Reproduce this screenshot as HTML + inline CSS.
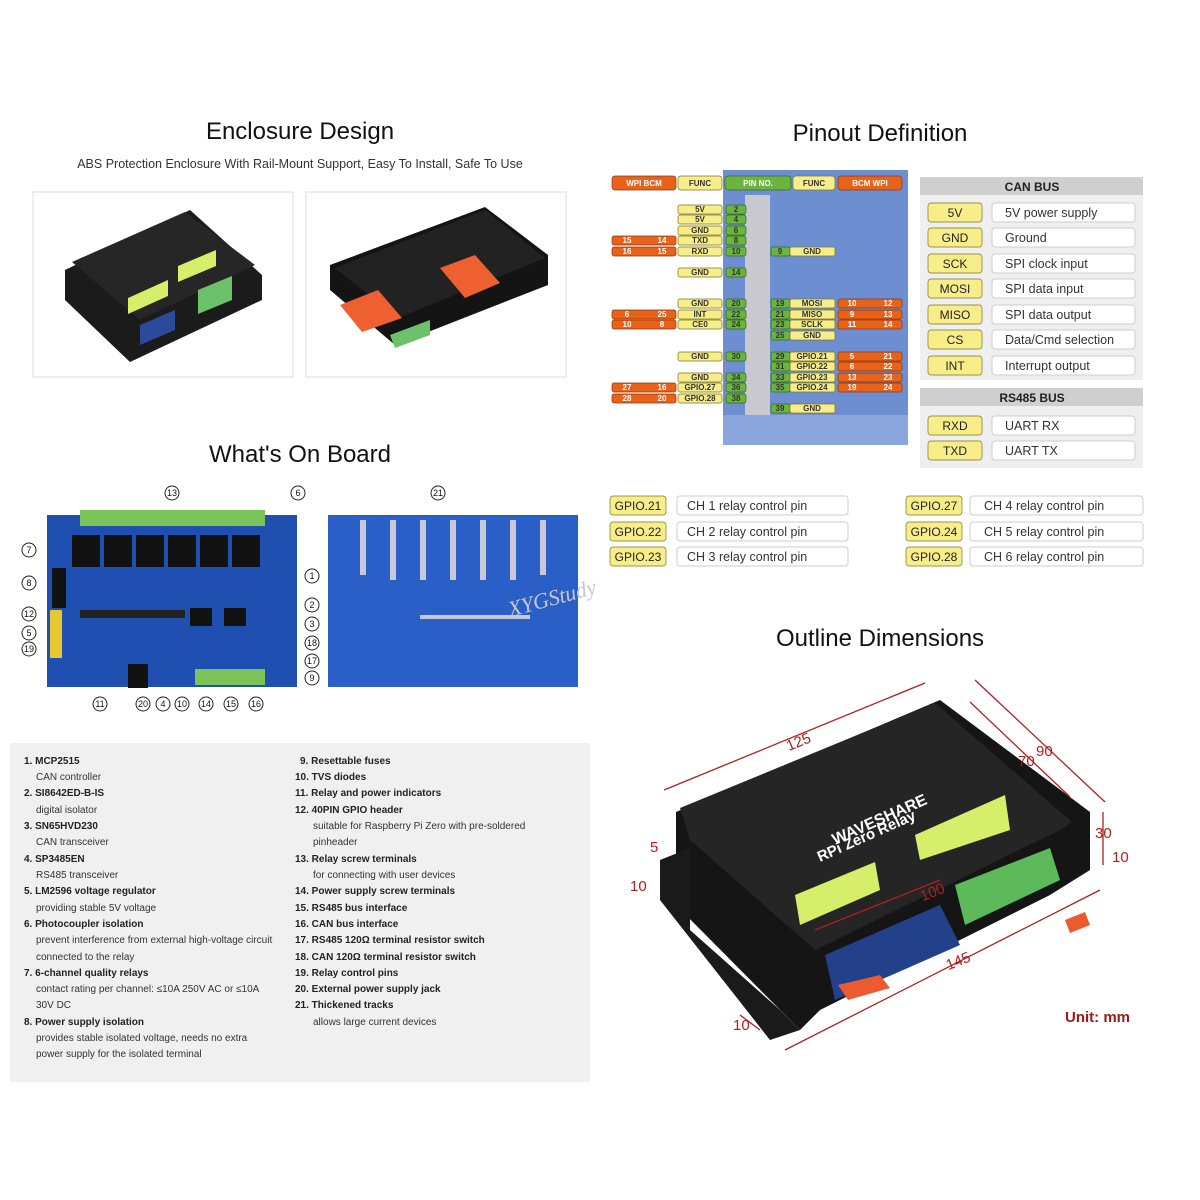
<!DOCTYPE html>
<html><head><meta charset="utf-8"><style>
html,body{margin:0;padding:0;background:#fff}
svg{display:block}
text{font-family:"Liberation Sans",sans-serif}
.t{font-size:24px;fill:#111;text-anchor:middle}
.p{font-size:8px;font-weight:bold;text-anchor:middle;fill:#333}
.o{fill:#e8621a;stroke:#8a3a0c;stroke-width:.7}
.y{fill:#f7ee8a;stroke:#7a7420;stroke-width:.7}
.g{fill:#6cb33f;stroke:#2f6a18;stroke-width:.7}
.ow{font-size:8px;fill:#fff;font-weight:bold;text-anchor:middle}
.lb{font-size:12px;fill:#222;text-anchor:middle}
.ds{font-size:12.5px;fill:#333}
.li{font-size:10px;fill:#333}
.lbd{font-size:10px;fill:#222;font-weight:bold}
.dim{font-size:15px;fill:#b02020}
.cn{font-size:12px;fill:#111;text-anchor:middle}
</style></head><body>
<svg width="1200" height="1200" viewBox="0 0 1200 1200" xmlns="http://www.w3.org/2000/svg">
<!-- Titles -->
<text class="t" x="300" y="139">Enclosure Design</text>
<text x="300" y="168" style="font-size:12.5px;fill:#333;text-anchor:middle">ABS Protection Enclosure With Rail-Mount Support, Easy To Install, Safe To Use</text>
<text class="t" x="880" y="141">Pinout Definition</text>
<text class="t" x="300" y="462">What's On Board</text>
<text class="t" x="880" y="646">Outline Dimensions</text>

<!-- Enclosure photos -->
<rect x="33" y="192" width="260" height="185" fill="#fff" stroke="#ddd"/>
<rect x="306" y="192" width="260" height="185" fill="#fff" stroke="#ddd"/>
<polygon points="65,270 190,210 262,275 262,300 130,362 65,300" fill="#1b1b1b"/>
<polygon points="72,262 185,212 255,265 140,320" fill="#262626"/>
<polygon points="128,298 168,280 168,296 128,314" fill="#d6ee6a"/>
<polygon points="178,266 216,250 216,266 178,282" fill="#d6ee6a"/>
<polygon points="198,290 232,276 232,300 198,314" fill="#6cc26a"/>
<polygon points="140,325 175,310 175,330 140,345" fill="#2a4a9a"/>
<polygon points="330,265 485,207 548,255 548,285 395,345 330,290" fill="#141414"/>
<polygon points="335,268 485,210 545,258 398,318" fill="#222"/>
<polygon points="340,305 378,290 402,318 362,332" fill="#ee6030"/>
<polygon points="440,268 475,255 500,283 465,298" fill="#ee6030"/>
<polygon points="390,335 430,320 430,335 395,348" fill="#6cc26a"/>

<!-- Board photos -->
<rect x="47" y="515" width="250" height="172" fill="#1f4fb0"/>
<rect x="80" y="510" width="185" height="16" fill="#7cc45a"/>
<g fill="#111">
<rect x="72" y="535" width="28" height="32"/><rect x="104" y="535" width="28" height="32"/><rect x="136" y="535" width="28" height="32"/><rect x="168" y="535" width="28" height="32"/><rect x="200" y="535" width="28" height="32"/><rect x="232" y="535" width="28" height="32"/>
<rect x="52" y="568" width="14" height="40"/><rect x="190" y="608" width="22" height="18"/><rect x="224" y="608" width="22" height="18"/>
<rect x="80" y="610" width="105" height="8" fill="#222"/><rect x="128" y="664" width="20" height="24"/>
</g>
<rect x="50" y="610" width="12" height="48" fill="#e8c830"/>
<rect x="195" y="669" width="70" height="16" fill="#7cc45a"/>
<rect x="328" y="515" width="250" height="172" fill="#2a5fc8"/>
<g fill="#c8c8d8"><rect x="360" y="520" width="6" height="55"/><rect x="390" y="520" width="6" height="60"/><rect x="420" y="520" width="6" height="60"/><rect x="450" y="520" width="6" height="60"/><rect x="480" y="520" width="6" height="60"/><rect x="510" y="520" width="6" height="60"/><rect x="540" y="520" width="6" height="55"/><rect x="420" y="615" width="110" height="4"/></g>
<g fill="none" stroke="#222" stroke-width="1">
<circle cx="172" cy="493" r="7"/><circle cx="298" cy="493" r="7"/><circle cx="438" cy="493" r="7"/>
<circle cx="29" cy="550" r="7"/><circle cx="29" cy="583" r="7"/><circle cx="29" cy="614" r="7"/><circle cx="29" cy="633" r="7"/><circle cx="29" cy="649" r="7"/>
<circle cx="312" cy="576" r="7"/><circle cx="312" cy="605" r="7"/><circle cx="312" cy="624" r="7"/><circle cx="312" cy="643" r="7"/><circle cx="312" cy="661" r="7"/><circle cx="312" cy="678" r="7"/>
<circle cx="100" cy="704" r="7"/><circle cx="143" cy="704" r="7"/><circle cx="163" cy="704" r="7"/><circle cx="182" cy="704" r="7"/><circle cx="206" cy="704" r="7"/><circle cx="231" cy="704" r="7"/><circle cx="256" cy="704" r="7"/>
</g>
<g style="font-size:9px;fill:#111;text-anchor:middle">
<text x="172" y="496">13</text><text x="298" y="496">6</text><text x="438" y="496">21</text>
<text x="29" y="553">7</text><text x="29" y="586">8</text><text x="29" y="617">12</text><text x="29" y="636">5</text><text x="29" y="652">19</text>
<text x="312" y="579">1</text><text x="312" y="608">2</text><text x="312" y="627">3</text><text x="312" y="646">18</text><text x="312" y="664">17</text><text x="312" y="681">9</text>
<text x="100" y="707">11</text><text x="143" y="707">20</text><text x="163" y="707">4</text><text x="182" y="707">10</text><text x="206" y="707">14</text><text x="231" y="707">15</text><text x="256" y="707">16</text>
</g>
<text x="505" y="603" style="font-size:22px;font-style:italic;fill:#c8c8d0;font-family:'Liberation Serif',serif" transform="rotate(-15 560 590)">XYGStudy</text>

<!-- List panel -->
<rect x="10" y="743" width="580" height="339" fill="#f0f0f0"/>
<g>
<text class="lbd" x="24" y="764">1. MCP2515</text><text class="li" x="36" y="780">CAN controller</text>
<text class="lbd" x="24" y="796">2. SI8642ED-B-IS</text><text class="li" x="36" y="813">digital isolator</text>
<text class="lbd" x="24" y="829">3. SN65HVD230</text><text class="li" x="36" y="845">CAN transceiver</text>
<text class="lbd" x="24" y="862">4. SP3485EN</text><text class="li" x="36" y="878">RS485 transceiver</text>
<text class="lbd" x="24" y="894">5. LM2596 voltage regulator</text><text class="li" x="36" y="911">providing stable 5V voltage</text>
<text class="lbd" x="24" y="927">6. Photocoupler isolation</text><text class="li" x="36" y="943">prevent interference from external high-voltage circuit</text>
<text class="li" x="36" y="960">connected to the relay</text>
<text class="lbd" x="24" y="976">7. 6-channel quality relays</text><text class="li" x="36" y="992">contact rating per channel: ≤10A 250V AC or ≤10A</text>
<text class="li" x="36" y="1008">30V DC</text>
<text class="lbd" x="24" y="1025">8. Power supply isolation</text><text class="li" x="36" y="1041">provides stable isolated voltage, needs no extra</text>
<text class="li" x="36" y="1057">power supply for the isolated terminal</text>
<text class="lbd" x="300" y="764">9. Resettable fuses</text>
<text class="lbd" x="295" y="780">10. TVS diodes</text>
<text class="lbd" x="295" y="796">11. Relay and power indicators</text>
<text class="lbd" x="295" y="813">12. 40PIN GPIO header</text><text class="li" x="313" y="829">suitable for Raspberry Pi Zero with pre-soldered</text>
<text class="li" x="313" y="845">pinheader</text>
<text class="lbd" x="295" y="862">13. Relay screw terminals</text><text class="li" x="313" y="878">for connecting with user devices</text>
<text class="lbd" x="295" y="894">14. Power supply screw terminals</text>
<text class="lbd" x="295" y="911">15. RS485 bus interface</text>
<text class="lbd" x="295" y="927">16. CAN bus interface</text>
<text class="lbd" x="295" y="943">17. RS485 120Ω terminal resistor switch</text>
<text class="lbd" x="295" y="960">18. CAN 120Ω terminal resistor switch</text>
<text class="lbd" x="295" y="976">19. Relay control pins</text>
<text class="lbd" x="295" y="992">20. External power supply jack</text>
<text class="lbd" x="295" y="1008">21. Thickened tracks</text><text class="li" x="313" y="1025">allows large current devices</text>
</g>

<!-- Pinout board -->
<rect x="723" y="170" width="185" height="275" fill="#6d8fd2"/>
<rect x="745" y="195" width="25" height="220" fill="#c9c9cf"/>
<rect x="723" y="415" width="185" height="30" fill="#8aa6dc"/>
<!-- header -->
<rect class="o" x="612" y="176" width="64" height="14" rx="3"/><text class="ow" x="644" y="186">WPI  BCM</text>
<rect class="y" x="678" y="176" width="44" height="14" rx="3"/><text class="p" x="700" y="186">FUNC</text>
<rect class="g" x="725" y="176" width="66" height="14" rx="3"/><text class="ow" x="758" y="186">PIN NO.</text>
<rect class="y" x="793" y="176" width="42" height="14" rx="3"/><text class="p" x="814" y="186">FUNC</text>
<rect class="o" x="838" y="176" width="64" height="14" rx="3"/><text class="ow" x="870" y="186">BCM  WPI</text>
<!-- left rows -->
<g>
<rect class="y" x="678" y="205" width="44" height="9" rx="2"/><text class="p" x="700" y="212">5V</text><rect class="g" x="726" y="205" width="20" height="9" rx="2"/><text class="p" x="736" y="212">2</text>
<rect class="y" x="678" y="215" width="44" height="9" rx="2"/><text class="p" x="700" y="222">5V</text><rect class="g" x="726" y="215" width="20" height="9" rx="2"/><text class="p" x="736" y="222">4</text>
<rect class="y" x="678" y="226" width="44" height="9" rx="2"/><text class="p" x="700" y="233">GND</text><rect class="g" x="726" y="226" width="20" height="9" rx="2"/><text class="p" x="736" y="233">6</text>
<rect class="o" x="612" y="236" width="64" height="9" rx="2"/><text class="ow" x="627" y="243">15</text><text class="ow" x="662" y="243">14</text>
<rect class="y" x="678" y="236" width="44" height="9" rx="2"/><text class="p" x="700" y="243">TXD</text><rect class="g" x="726" y="236" width="20" height="9" rx="2"/><text class="p" x="736" y="243">8</text>
<rect class="o" x="612" y="247" width="64" height="9" rx="2"/><text class="ow" x="627" y="254">16</text><text class="ow" x="662" y="254">15</text>
<rect class="y" x="678" y="247" width="44" height="9" rx="2"/><text class="p" x="700" y="254">RXD</text><rect class="g" x="726" y="247" width="20" height="9" rx="2"/><text class="p" x="736" y="254">10</text>
<rect class="y" x="678" y="268" width="44" height="9" rx="2"/><text class="p" x="700" y="275">GND</text><rect class="g" x="726" y="268" width="20" height="9" rx="2"/><text class="p" x="736" y="275">14</text>
<rect class="y" x="678" y="299" width="44" height="9" rx="2"/><text class="p" x="700" y="306">GND</text><rect class="g" x="726" y="299" width="20" height="9" rx="2"/><text class="p" x="736" y="306">20</text>
<rect class="o" x="612" y="310" width="64" height="9" rx="2"/><text class="ow" x="627" y="317">6</text><text class="ow" x="662" y="317">25</text>
<rect class="y" x="678" y="310" width="44" height="9" rx="2"/><text class="p" x="700" y="317">INT</text><rect class="g" x="726" y="310" width="20" height="9" rx="2"/><text class="p" x="736" y="317">22</text>
<rect class="o" x="612" y="320" width="64" height="9" rx="2"/><text class="ow" x="627" y="327">10</text><text class="ow" x="662" y="327">8</text>
<rect class="y" x="678" y="320" width="44" height="9" rx="2"/><text class="p" x="700" y="327">CE0</text><rect class="g" x="726" y="320" width="20" height="9" rx="2"/><text class="p" x="736" y="327">24</text>
<rect class="y" x="678" y="352" width="44" height="9" rx="2"/><text class="p" x="700" y="359">GND</text><rect class="g" x="726" y="352" width="20" height="9" rx="2"/><text class="p" x="736" y="359">30</text>
<rect class="y" x="678" y="373" width="44" height="9" rx="2"/><text class="p" x="700" y="380">GND</text><rect class="g" x="726" y="373" width="20" height="9" rx="2"/><text class="p" x="736" y="380">34</text>
<rect class="o" x="612" y="383" width="64" height="9" rx="2"/><text class="ow" x="627" y="390">27</text><text class="ow" x="662" y="390">16</text>
<rect class="y" x="678" y="383" width="44" height="9" rx="2"/><text class="p" x="700" y="390">GPIO.27</text><rect class="g" x="726" y="383" width="20" height="9" rx="2"/><text class="p" x="736" y="390">36</text>
<rect class="o" x="612" y="394" width="64" height="9" rx="2"/><text class="ow" x="627" y="401">28</text><text class="ow" x="662" y="401">20</text>
<rect class="y" x="678" y="394" width="44" height="9" rx="2"/><text class="p" x="700" y="401">GPIO.28</text><rect class="g" x="726" y="394" width="20" height="9" rx="2"/><text class="p" x="736" y="401">38</text>
</g>
<!-- right rows -->
<g>
<rect class="g" x="771" y="247" width="19" height="9" rx="2"/><text class="p" x="780" y="254">9</text><rect class="y" x="790" y="247" width="45" height="9" rx="2"/><text class="p" x="812" y="254">GND</text>
<rect class="g" x="771" y="299" width="19" height="9" rx="2"/><text class="p" x="780" y="306">19</text><rect class="y" x="790" y="299" width="45" height="9" rx="2"/><text class="p" x="812" y="306">MOSI</text><rect class="o" x="838" y="299" width="64" height="9" rx="2"/><text class="ow" x="852" y="306">10</text><text class="ow" x="888" y="306">12</text>
<rect class="g" x="771" y="310" width="19" height="9" rx="2"/><text class="p" x="780" y="317">21</text><rect class="y" x="790" y="310" width="45" height="9" rx="2"/><text class="p" x="812" y="317">MISO</text><rect class="o" x="838" y="310" width="64" height="9" rx="2"/><text class="ow" x="852" y="317">9</text><text class="ow" x="888" y="317">13</text>
<rect class="g" x="771" y="320" width="19" height="9" rx="2"/><text class="p" x="780" y="327">23</text><rect class="y" x="790" y="320" width="45" height="9" rx="2"/><text class="p" x="812" y="327">SCLK</text><rect class="o" x="838" y="320" width="64" height="9" rx="2"/><text class="ow" x="852" y="327">11</text><text class="ow" x="888" y="327">14</text>
<rect class="g" x="771" y="331" width="19" height="9" rx="2"/><text class="p" x="780" y="338">25</text><rect class="y" x="790" y="331" width="45" height="9" rx="2"/><text class="p" x="812" y="338">GND</text>
<rect class="g" x="771" y="352" width="19" height="9" rx="2"/><text class="p" x="780" y="359">29</text><rect class="y" x="790" y="352" width="45" height="9" rx="2"/><text class="p" x="812" y="359">GPIO.21</text><rect class="o" x="838" y="352" width="64" height="9" rx="2"/><text class="ow" x="852" y="359">5</text><text class="ow" x="888" y="359">21</text>
<rect class="g" x="771" y="362" width="19" height="9" rx="2"/><text class="p" x="780" y="369">31</text><rect class="y" x="790" y="362" width="45" height="9" rx="2"/><text class="p" x="812" y="369">GPIO.22</text><rect class="o" x="838" y="362" width="64" height="9" rx="2"/><text class="ow" x="852" y="369">6</text><text class="ow" x="888" y="369">22</text>
<rect class="g" x="771" y="373" width="19" height="9" rx="2"/><text class="p" x="780" y="380">33</text><rect class="y" x="790" y="373" width="45" height="9" rx="2"/><text class="p" x="812" y="380">GPIO.23</text><rect class="o" x="838" y="373" width="64" height="9" rx="2"/><text class="ow" x="852" y="380">13</text><text class="ow" x="888" y="380">23</text>
<rect class="g" x="771" y="383" width="19" height="9" rx="2"/><text class="p" x="780" y="390">35</text><rect class="y" x="790" y="383" width="45" height="9" rx="2"/><text class="p" x="812" y="390">GPIO.24</text><rect class="o" x="838" y="383" width="64" height="9" rx="2"/><text class="ow" x="852" y="390">19</text><text class="ow" x="888" y="390">24</text>
<rect class="g" x="771" y="404" width="19" height="9" rx="2"/><text class="p" x="780" y="411">39</text><rect class="y" x="790" y="404" width="45" height="9" rx="2"/><text class="p" x="812" y="411">GND</text>
</g>

<!-- CAN BUS -->
<rect x="920" y="177" width="223" height="203" fill="#efefef"/>
<rect x="920" y="177" width="223" height="18" fill="#cfcfcf"/>
<text x="1032" y="191" style="font-size:12px;font-weight:bold;fill:#222;text-anchor:middle">CAN BUS</text>
<g>
<rect class="y" x="928" y="203" width="54" height="19" rx="3"/><rect x="992" y="203" width="143" height="19" rx="3" fill="#fff" stroke="#ccc"/><text class="lb" x="955" y="217">5V</text><text class="ds" x="1005" y="217">5V power supply</text>
<rect class="y" x="928" y="228" width="54" height="19" rx="3"/><rect x="992" y="228" width="143" height="19" rx="3" fill="#fff" stroke="#ccc"/><text class="lb" x="955" y="242">GND</text><text class="ds" x="1005" y="242">Ground</text>
<rect class="y" x="928" y="254" width="54" height="19" rx="3"/><rect x="992" y="254" width="143" height="19" rx="3" fill="#fff" stroke="#ccc"/><text class="lb" x="955" y="268">SCK</text><text class="ds" x="1005" y="268">SPI clock input</text>
<rect class="y" x="928" y="279" width="54" height="19" rx="3"/><rect x="992" y="279" width="143" height="19" rx="3" fill="#fff" stroke="#ccc"/><text class="lb" x="955" y="293">MOSI</text><text class="ds" x="1005" y="293">SPI data input</text>
<rect class="y" x="928" y="305" width="54" height="19" rx="3"/><rect x="992" y="305" width="143" height="19" rx="3" fill="#fff" stroke="#ccc"/><text class="lb" x="955" y="319">MISO</text><text class="ds" x="1005" y="319">SPI data output</text>
<rect class="y" x="928" y="330" width="54" height="19" rx="3"/><rect x="992" y="330" width="143" height="19" rx="3" fill="#fff" stroke="#ccc"/><text class="lb" x="955" y="344">CS</text><text class="ds" x="1005" y="344">Data/Cmd selection</text>
<rect class="y" x="928" y="356" width="54" height="19" rx="3"/><rect x="992" y="356" width="143" height="19" rx="3" fill="#fff" stroke="#ccc"/><text class="lb" x="955" y="370">INT</text><text class="ds" x="1005" y="370">Interrupt output</text>
</g>
<rect x="920" y="388" width="223" height="80" fill="#efefef"/>
<rect x="920" y="388" width="223" height="18" fill="#cfcfcf"/>
<text x="1032" y="402" style="font-size:12px;font-weight:bold;fill:#222;text-anchor:middle">RS485 BUS</text>
<rect class="y" x="928" y="416" width="54" height="19" rx="3"/><rect x="992" y="416" width="143" height="19" rx="3" fill="#fff" stroke="#ccc"/><text class="lb" x="955" y="430">RXD</text><text class="ds" x="1005" y="430">UART RX</text>
<rect class="y" x="928" y="441" width="54" height="19" rx="3"/><rect x="992" y="441" width="143" height="19" rx="3" fill="#fff" stroke="#ccc"/><text class="lb" x="955" y="455">TXD</text><text class="ds" x="1005" y="455">UART TX</text>

<!-- GPIO relay pins -->
<g>
<rect class="y" x="610" y="496" width="56" height="19" rx="3"/><text class="lb" x="638" y="510">GPIO.21</text><rect x="677" y="496" width="171" height="19" rx="3" fill="#fff" stroke="#ccc"/><text class="ds" x="687" y="510">CH 1 relay control pin</text>
<rect class="y" x="610" y="522" width="56" height="19" rx="3"/><text class="lb" x="638" y="536">GPIO.22</text><rect x="677" y="522" width="171" height="19" rx="3" fill="#fff" stroke="#ccc"/><text class="ds" x="687" y="536">CH 2 relay control pin</text>
<rect class="y" x="610" y="547" width="56" height="19" rx="3"/><text class="lb" x="638" y="561">GPIO.23</text><rect x="677" y="547" width="171" height="19" rx="3" fill="#fff" stroke="#ccc"/><text class="ds" x="687" y="561">CH 3 relay control pin</text>
<rect class="y" x="906" y="496" width="56" height="19" rx="3"/><text class="lb" x="934" y="510">GPIO.27</text><rect x="970" y="496" width="173" height="19" rx="3" fill="#fff" stroke="#ccc"/><text class="ds" x="984" y="510">CH 4 relay control pin</text>
<rect class="y" x="906" y="522" width="56" height="19" rx="3"/><text class="lb" x="934" y="536">GPIO.24</text><rect x="970" y="522" width="173" height="19" rx="3" fill="#fff" stroke="#ccc"/><text class="ds" x="984" y="536">CH 5 relay control pin</text>
<rect class="y" x="906" y="547" width="56" height="19" rx="3"/><text class="lb" x="934" y="561">GPIO.28</text><rect x="970" y="547" width="173" height="19" rx="3" fill="#fff" stroke="#ccc"/><text class="ds" x="984" y="561">CH 6 relay control pin</text>
</g>

<!-- Outline dimensions device -->
<polygon points="676,812 940,700 1090,812 1090,870 1050,895 820,1010 800,1030 676,905" fill="#151515"/>
<polygon points="680,808 935,703 1072,822 1060,830 815,950 690,840" fill="#252525"/>
<polygon points="660,860 690,848 690,930 780,1010 800,1030 770,1040 660,900" fill="#1a1a1a"/>
<polygon points="795,895 875,862 880,890 800,925" fill="#d6ee6a"/>
<polygon points="915,835 1005,795 1010,830 920,860" fill="#d6ee6a"/>
<polygon points="955,885 1050,848 1060,880 965,925" fill="#5cba5a"/>
<polygon points="825,955 940,905 960,945 835,1000" fill="#23408a"/>
<polygon points="838,985 880,975 890,988 848,1000" fill="#ee5a30"/>
<polygon points="1065,920 1085,912 1090,925 1070,933" fill="#ee5a30"/>
<text x="835" y="845" style="font-size:16px;font-weight:bold;fill:#fff" transform="rotate(-24 835 845)">WAVESHARE</text>
<text x="820" y="862" style="font-size:15px;font-weight:bold;fill:#fff" transform="rotate(-24 820 862)">RPi Zero Relay</text>
<g stroke="#b02020" stroke-width="1.3" fill="none">
<line x1="664" y1="790" x2="925" y2="683"/>
<line x1="975" y1="680" x2="1105" y2="802"/>
<line x1="970" y1="702" x2="1070" y2="797"/>
<line x1="785" y1="1050" x2="1100" y2="890"/>
<line x1="815" y1="930" x2="940" y2="880"/>
<line x1="1103" y1="812" x2="1103" y2="865"/>
<line x1="740" y1="1015" x2="760" y2="1030"/>
</g>
<text class="dim" x="785" y="748" transform="rotate(-22 795 740)">125</text>
<text class="dim" x="1018" y="766">70</text><text class="dim" x="1036" y="756">90</text>
<text class="dim" x="1095" y="838">30</text><text class="dim" x="1112" y="862">10</text>
<text class="dim" x="650" y="852">5</text><text class="dim" x="630" y="891">10</text>
<text class="dim" x="920" y="898" transform="rotate(-22 930 893)">100</text>
<text class="dim" x="945" y="967" transform="rotate(-22 955 960)">145</text>
<text class="dim" x="733" y="1030">10</text>
<text x="1065" y="1022" style="font-size:15px;font-weight:bold;fill:#a01818">Unit: mm</text>
</svg>
</body></html>
